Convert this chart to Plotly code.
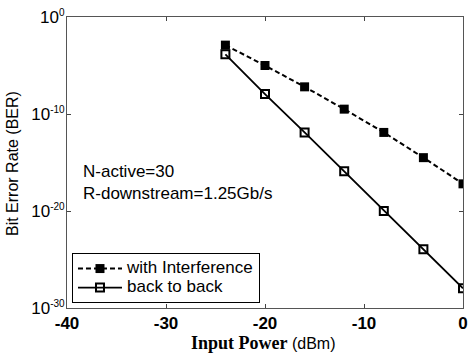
import plotly.graph_objects as go

power_dbm = [-24, -20, -16, -12, -8, -4, 0]
ber_interference = [10**-2.9, 10**-5.0, 10**-7.2, 10**-9.5, 10**-11.9, 10**-14.5, 10**-17.2]
ber_back_to_back = [10**-3.85, 10**-7.95, 10**-11.9, 10**-15.9, 10**-20.0, 10**-23.95, 10**-27.97]
y_tick_vals = [1e0, 1e-10, 1e-20, 1e-30]
y_tick_exponents = ["0", "-10", "-20", "-30"]
x_tick_vals = [-40, -30, -20, -10, 0]
x_tick_text = ["-40", "-30", "-20", "-10", "0"]
series_names = ["with Interference", "back to back"]

y_tick_text = ['10<sup><span style="font-size:10px">%s</span></sup>' % e for e in y_tick_exponents]

def legend_name(s):
    return '<span style="font-size:17px">%s</span>' % s

fig = go.Figure()
fig.add_trace(go.Scatter(
    x=power_dbm, y=ber_interference, mode="lines+markers", name=legend_name(series_names[0]),
    line=dict(color="black", width=2, dash="5px,3px"),
    marker=dict(symbol="square", size=9, color="black"),
))
fig.add_trace(go.Scatter(
    x=power_dbm, y=ber_back_to_back, mode="lines+markers", name=legend_name(series_names[1]),
    line=dict(color="black", width=1.8),
    marker=dict(symbol="square-open", size=8, color="black", line=dict(width=2)),
))

fig.update_layout(
    width=474, height=358,
    margin=dict(l=67, r=11, t=17, b=50, autoexpand=False),
    paper_bgcolor="white", plot_bgcolor="white",
    font=dict(family="Arial, Liberation Sans, sans-serif", color="black", size=17),
    showlegend=True,
    legend=dict(
        x=0.0126, y=0.017, xanchor="left", yanchor="bottom",
        bordercolor="black", borderwidth=1, bgcolor="white",
        font=dict(size=12), tracegroupgap=0, itemwidth=44,
    ),
    xaxis=dict(
        range=[-40, 0], tickvals=x_tick_vals, ticktext=x_tick_text,
        ticks="inside", ticklen=4, automargin=False,
        showline=True, linecolor="#555", linewidth=1, mirror="ticks",
        showgrid=False, zeroline=False,
        tickfont=dict(size=17, weight="bold"),
    ),
    yaxis=dict(
        type="log", range=[-30, 0], tickvals=y_tick_vals, ticktext=y_tick_text,
        ticks="inside", ticklen=4, automargin=False, ticklabelstandoff=-2,
        showline=True, linecolor="#555", linewidth=1, mirror="ticks",
        showgrid=False, zeroline=False,
        tickfont=dict(size=17),
    ),
    annotations=[
        dict(text="N-active=30<br>R-downstream=1.25Gb/s", x=0.036, y=0.51,
             xref="paper", yref="paper", xanchor="left", yanchor="top",
             showarrow=False, align="left", font=dict(size=17)),
        dict(text='<span style="font-family:Liberation Serif, Times New Roman, serif;font-weight:bold;font-size:18px">Input Power</span> (dBm)',
             x=0.497, y=-0.12, xref="paper", yref="paper", xanchor="center", yanchor="middle",
             showarrow=False, font=dict(size=16)),
        dict(text="Bit Error Rate (BER)", textangle=-90,
             x=-0.139, y=0.498, xref="paper", yref="paper", xanchor="center", yanchor="middle",
             showarrow=False, font=dict(size=16)),
    ],
)

fig.write_html("out.html", config={"displayModeBar": False},
               post_script="document.body.style.margin='0px';")
